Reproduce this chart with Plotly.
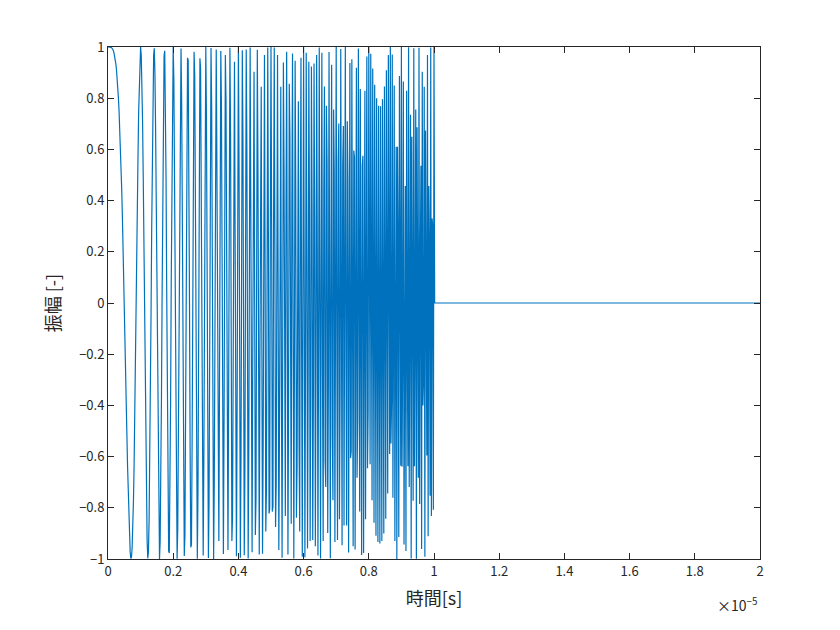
import numpy as np
import plotly.graph_objects as go

# Signal parameters (linear chirp, then silence)
sample_rate_hz = 50e6        # sampling rate
chirp_duration_s = 1e-5      # chirp lasts until 1e-5 s
f_start_hz = 0.0             # starting frequency
f_end_hz = 20e6              # frequency reached at the end of the chirp
total_duration_s = 2e-5      # x axis extent

x_tick_vals = [0, 0.2e-5, 0.4e-5, 0.6e-5, 0.8e-5, 1.0e-5, 1.2e-5, 1.4e-5, 1.6e-5, 1.8e-5, 2.0e-5]
x_tick_text = ["0", "0.2", "0.4", "0.6", "0.8", "1", "1.2", "1.4", "1.6", "1.8", "2"]
y_tick_vals = [-1, -0.8, -0.6, -0.4, -0.2, 0, 0.2, 0.4, 0.6, 0.8, 1]

n = int(round(total_duration_s * sample_rate_hz)) + 1
t = np.arange(n) / sample_rate_hz
k = (f_end_hz - f_start_hz) / chirp_duration_s
y = np.where(t <= chirp_duration_s + 1e-15,
             np.cos(2 * np.pi * (f_start_hz * t + 0.5 * k * t ** 2)), 0.0)

font_family = "Noto Sans CJK JP"
axis_color = "#262626"

fig = go.Figure()
fig.add_trace(go.Scatter(x=t, y=y, mode="lines",
                         line=dict(color="#0072BD", width=1.2),
                         showlegend=False, hoverinfo="skip"))

axis_common = dict(showline=True, linecolor=axis_color, linewidth=1, mirror="ticks",
                   ticks="inside", ticklen=6, tickcolor=axis_color, showgrid=False,
                   zeroline=False, automargin=False,
                   tickfont=dict(family=font_family, size=13, color=axis_color))

fig.update_xaxes(range=[0, total_duration_s], tickvals=x_tick_vals, ticktext=x_tick_text,
                 title=dict(text="時間[s]", font=dict(family=font_family, size=18, color=axis_color),
                            standoff=13),
                 **axis_common)
fig.update_yaxes(range=[-1, 1], tickvals=y_tick_vals, tickformat=".1~f",
                 title=dict(text="振幅 [-]", font=dict(family=font_family, size=18, color=axis_color),
                            standoff=13),
                 **axis_common)

fig.add_annotation(xref="paper", yref="paper", x=1.0, y=0, yshift=-33, xshift=-1,
                   xanchor="right", yanchor="top", showarrow=False,
                   text="×10<sup>−5</sup>",
                   font=dict(family=font_family, size=14, color=axis_color))

fig.update_layout(width=840, height=630, paper_bgcolor="white", plot_bgcolor="white",
                  margin=dict(l=100, r=88, t=39, b=79),
                  font=dict(family=font_family, color=axis_color))

fig.write_html("out.html")
